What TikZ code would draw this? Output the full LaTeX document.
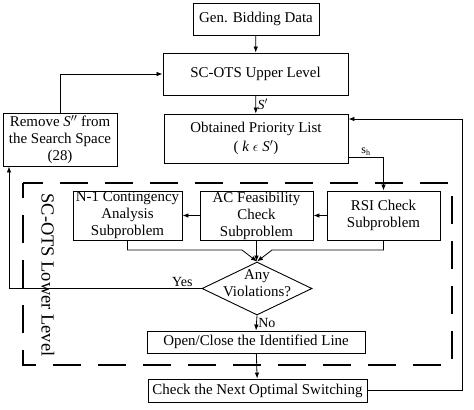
\documentclass[tikz,border=0pt]{standalone}
\usepackage{fontspec}
\setmainfont{Liberation Serif}
\usetikzlibrary{arrows.meta,shapes.geometric}

\begin{document}
\begin{tikzpicture}[x=1bp,y=-1bp,
    box/.style={draw, line width=0.9bp, align=center, inner sep=0pt, font=\fontsize{15}{17}\selectfont},
    lbl/.style={inner sep=1.5bp, font=\fontsize{14}{16}\selectfont},
    arr/.style={-{Latex[length=6bp,width=4.5bp]}, line width=0.8bp},
    lowframe/.style={line width=2.2bp, dash pattern=on 28bp off 17bp, dash phase=13bp}]
    \useasboundingbox (0,0) rectangle (474,409);
    %	\draw [lightgray,ultra thin] (0,0) grid[step=20] (474,409);
    % % ----- lower level frame ----- % %
    \draw [lowframe] (23,183) rectangle (452,365);
    \node [font=\fontsize{18.5}{20}\selectfont, rotate=-90] (lowlbl) at (48,275) {SC-OTS Lower Level};
    % % ----- blocks ----- % %
    \node [box, minimum width=126bp, minimum height=32bp] (gen) at (256,19) {Gen. Bidding Data};
    \node [box, minimum width=185bp, minimum height=42bp] (upper) at (255.5,74) {SC-OTS Upper Level};
    \node [box, minimum width=184bp, minimum height=49bp] (prio) at (256,138.5) {Obtained Priority List\\[1.5bp]( \textit{k} $\epsilon$ \textit{S}$'$)};
    \node [box, minimum width=114bp, minimum height=53bp] (remove) at (60,139.5) {Remove \textit{S}$''$ from\\the Search Space\\(28)};
    \node [box, minimum width=109bp, minimum height=49bp] (nmone) at (127.5,215.5) {N-1 Contingency\\Analysis\\Subproblem};
    \node [box, minimum width=113bp, minimum height=49bp] (acfeas) at (256.5,215.5) {AC Feasibility\\Check\\Subproblem};
    \node [box, minimum width=113bp, minimum height=49bp] (rsi) at (383.5,215.5) {RSI Check\\Subproblem};
    \node [diamond, draw, line width=0.9bp, minimum width=110bp, minimum height=53bp, inner sep=0pt,
        label={[box, draw=none, yshift=5bp]center:Any\\Violations?}] (viol) at (257,288.5) {};
    \node [box, minimum width=218bp, minimum height=22bp] (openln) at (256,342) {Open/Close the Identified Line};
    \node [box, minimum width=219bp, minimum height=23bp] (nextsw) at (257.5,390.5) {Check the Next Optimal Switching};
    % % ----- bends ----- % %
    \coordinate (mergel) at (242,250);		% N-1 to diamond
    \coordinate (merger) at (272,250);		% RSI to diamond
    \coordinate (yesend) at (9,288.5);		% yes loop
    \coordinate (fbk) at (462,119);			% feedback loop
    % % ----- arrows ----- % %
    \draw [arr] (gen) -- (upper);
    \draw [arr] (upper) -- node[lbl, right] {\textit{S}$'$} (prio);
    \draw [arr] (remove.north) |- (upper.west);
    \draw [arr] ([yshift=6bp]prio.south east) -| node[lbl, above, pos=0.25, font=\fontsize{12}{14}\selectfont] {s\textsubscript{h}} (rsi.north);
    \draw [arr] (rsi) -- (acfeas);
    \draw [arr] (acfeas) -- (nmone);
    \draw [arr] (nmone.south) |- (mergel) -- (viol.north);
    \draw [arr] (rsi.south) |- (merger) -- (viol.north);
    \draw [arr] (acfeas.south) -- (acfeas.south |- viol.north);
    \draw [arr] (viol.west) -- node[lbl, above, pos=0.1] {Yes} (yesend) -- (yesend |- remove.south);
    \draw [arr] (viol.south) -- node[lbl, right] {No} (openln.north);
    \draw [arr] (openln) -- (nextsw);
    \draw [arr] (nextsw.east) -| (fbk) -- (prio.east |- fbk);
\end{tikzpicture}
\end{document}
